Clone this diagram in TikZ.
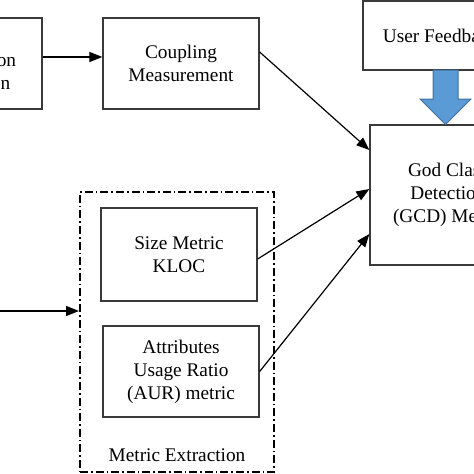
\documentclass[tikz,border=0pt]{standalone}
\usepackage{fontspec}
\setmainfont{Liberation Serif}
\usetikzlibrary{arrows.meta,calc}
\definecolor{boxline}{HTML}{3A3A3A}
\definecolor{fbfill}{HTML}{5B9BD5}
\definecolor{fbline}{HTML}{41719C}
\begin{document}
\begin{tikzpicture}[x=1pt,y=-1pt,
  every node/.style={font=\fontsize{19.3}{23}\selectfont},
  box/.style={draw=boxline,line width=1.3pt,fill=white,inner sep=0pt,align=center},
  flow/.style={draw=black,line width=1.2pt,-{Triangle[length=13pt,width=10pt]}},
  dashdot/.style={draw=black,line width=2pt,dash pattern=on 8pt off 3pt on 1.6pt off 3pt}]
\useasboundingbox (0,0) rectangle (474,474);
\begin{scope}
\clip (0,0) rectangle (474,474);
% dash-dot container
\node[dashdot,minimum width=194pt,minimum height=280pt,inner sep=0pt] (mext) at (177,332) {};
\node (mextlbl) at (177,455) {Metric Extraction};
% boxes
\node[box,minimum width=144pt,minimum height=91pt] (src) at (-30,63.5) {};
\node[align=center] (srctext) at (-30,71) {Information\\Extraction};
\node[box,minimum width=156pt,minimum height=91pt] (coup) at (181,63.5) {Coupling\\Measurement};
\node[box,minimum width=155pt,minimum height=69pt] (fb) at (440.5,35.5) {User Feedback};
\node[box,minimum width=156pt,minimum height=140pt] (gcd) at (448,195) {God Class\\Detection\\(GCD) Metric};
\node[box,minimum width=156pt,minimum height=93pt] (size) at (179,254.5) {Size Metric\\KLOC};
\node[box,minimum width=156pt,minimum height=91pt] (aur) at (181,371.5) {Attributes\\Usage Ratio\\(AUR) metric};
% connectors
\coordinate (inleft) at (0,311);
\draw[flow] ($(src.east)+(0,-6.5)$) -- ($(coup.west)+(0,-6.5)$);
\draw[flow] ($(coup.east)+(0,-11.5)$) -- ($(gcd.west)+(0,-45)$);
\draw[flow] ($(size.east)+(0,4.5)$) -- ($(gcd.west)+(0,-6)$);
\draw[flow] (aur.east) -- ($(gcd.west)+(0,39)$);
\draw[flow] (inleft) -- (inleft -| mext.west);
% blue feedback arrow
\draw[fill=fbfill,draw=fbline,line width=1pt]
  (433,70) -- (458,70) -- (458,99) -- (471,99) -- (445.5,124.5) -- (420,99) -- (433,99) -- cycle;
\end{scope}
\end{tikzpicture}
\end{document}
